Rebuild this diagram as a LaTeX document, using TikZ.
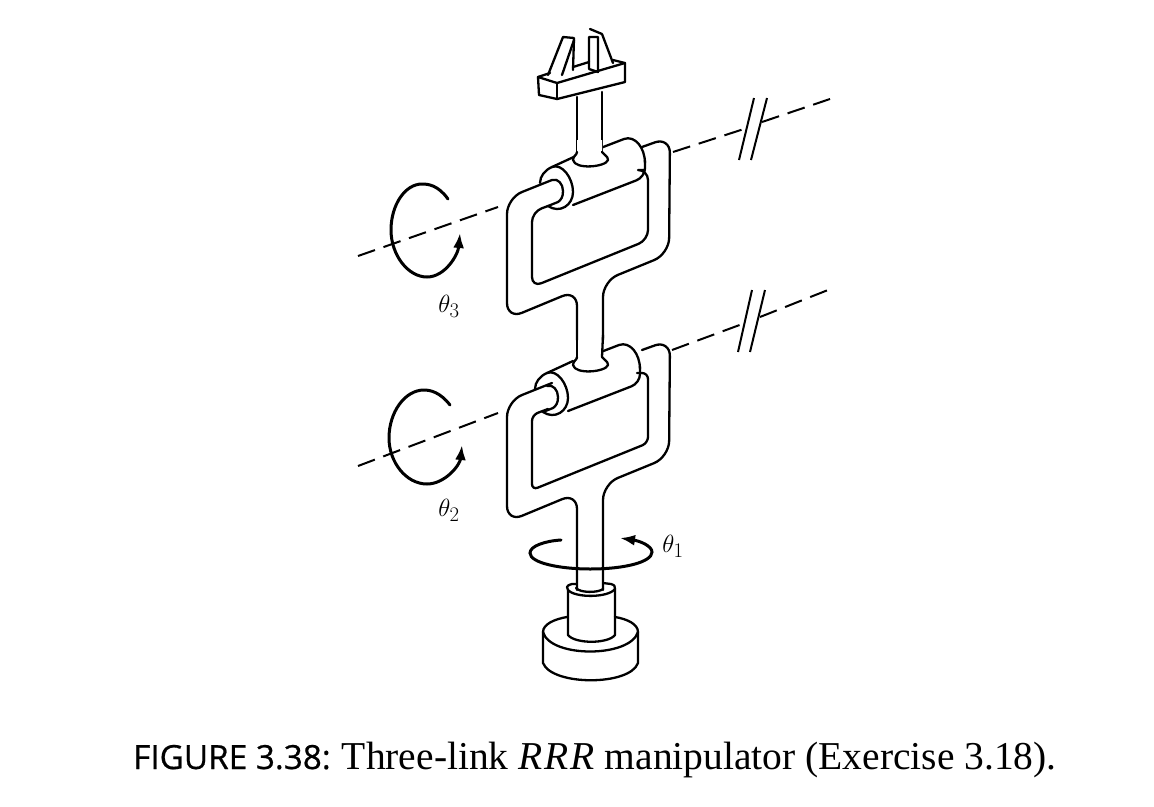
\documentclass[tikz,border=0pt]{standalone}
\usepackage{amsmath}
\usepackage{fontspec}
\setmainfont{Liberation Serif}
\newfontfamily\capsans[FakeBold=0.6]{Open Sans}
\usetikzlibrary{arrows.meta,positioning,calc}

\tikzset{
  part/.style={line width=2.3pt, line join=round, line cap=round},
  axisline/.style={line width=2pt, dash pattern=on 18pt off 9pt},
  slash/.style={line width=2pt},
  turn/.style={line width=3pt, line cap=round, -{Latex[length=15pt,width=11pt]}},
  angle/.style={font=\fontsize{30}{36}\selectfont, inner sep=0pt}
}

% yoke with its window, #1 end of the legs, #2 end of window top, #3 window corner
\newcommand{\linkframe}[3]{
  \draw[part, rounded corners=16pt] (552,180) -- (507,198) -- (507,319) -- (577,290) -- (577,#1);
  \draw[part, rounded corners=16pt] (603,#1) -- (603,281) -- (669,254) -- (670,137) -- (642,147);
  \draw[part, rounded corners=#3] (548,206) -- (532,212) -- (532,287) -- (648,240) -- (648,170) -- (#2,170);
}
% cross cylinder and its end ring
\newcommand{\linkbarrel}{
  \draw[part] (552,167) -- (578,155);
  \draw[part] (598,149) -- (624,139) .. controls (635,135) and (645,148) .. (645,163);
  \draw[part, rounded corners=9pt] (645,160) -- (645,177) -- (573,205);
  \draw[part] (540,183) .. controls (540,176) and (545,170) .. (552,167)
    .. controls (562,163) and (573,178) .. (573,192)
    .. controls (573,205) and (560,214) .. (548,206);
  \draw[part] (552,180) .. controls (558,178) and (563,184) .. (563,191)
    .. controls (563,197) and (561,200) .. (558,202) -- (548,206);
}
% flare where the shaft meets the cylinder
\newcommand{\linkcollar}{
  \fill[white] (577,140) -- (602,140) -- (602,152) .. controls (604,155) and (608,156) .. (608,160)
    .. controls (606,167) and (575,170) .. (573,160) .. controls (573,156) and (577,155) .. (577,152) -- cycle;
  \draw[part] (577,152) .. controls (577,155) and (573,156) .. (573,160)
    .. controls (575,170) and (606,167) .. (608,160) .. controls (608,156) and (604,155) .. (602,152);
}

\begin{document}
\begin{tikzpicture}[x=1pt, y=-1pt]
  \useasboundingbox (0,0) rectangle (1154,806);

  % axes
  \draw[axisline] (358,256) -- (498,207);
  \draw[axisline] (673,152) -- (747,128);
  \draw[axisline] (762,122) -- (830,99);
  \draw[slash] (754,98) -- (739,160);
  \draw[slash] (767,98) -- (751,160);
  \draw[axisline] (358,466) -- (498,413);
  \draw[axisline] (672,350) -- (745,323);
  \draw[axisline] (760,317) -- (828,290);
  \draw[slash] (752,290) -- (738,352);
  \draw[slash] (765,290) -- (750,352);

  % gripper
  \draw[part] (548,75) -- (563,37) -- (574,38) -- (573,70);
  \draw[part] (562,75) -- (574,40);
  \draw[part] (589,68) -- (589,37) -- (598,37) -- (598,72) -- (589,69);
  \draw[part] (590,29) -- (602,34) -- (613,63);
  \draw[part] (538,77) -- (550,73);
  \draw[part] (573,67) -- (589,62);
  \draw[part] (538,77) -- (557,83) -- (625,63) -- (613,60);
  \draw[part] (538,77) -- (539,95) -- (557,99) -- (625,82) -- (625,63);
  \draw[part] (557,83) -- (557,99);
  \draw[part] (577,97) -- (577,152);
  \draw[part] (602,92) -- (602,152);

  % upper link
  \linkframe{340}{645}{10pt}
  \linkbarrel
  \linkcollar

  % lower link
  \begin{scope}[shift={(0,203)}]
    \linkframe{387}{637}{6pt}
  \end{scope}
  \begin{scope}[shift={(-5,206)}]
    \linkbarrel
  \end{scope}
  \begin{scope}[shift={(0,205)}]
    \linkcollar
  \end{scope}
  \draw[part] (577,335) -- (577,358);
  \draw[part] (603,335) -- (602,357);

  % base
  \draw[part] (576,588) .. controls (580,593) and (598,593) .. (603,589);
  \draw[part] (576,584) -- (572,584) .. controls (565,586) and (567,588) .. (568,590);
  \draw[part] (603,583) -- (611,584) .. controls (615,585) and (615,587) .. (615,589);
  \draw[part] (568,590) .. controls (575,598) and (608,598) .. (615,589);
  \draw[part] (568,590) -- (568,635) .. controls (575,644) and (608,644) .. (615,635) -- (615,589);
  \draw[part] (567,617) .. controls (555,619) and (543,624) .. (543,632);
  \draw[part] (615,617) .. controls (627,619) and (638,624) .. (638,632);
  \draw[part] (543,632) .. controls (550,658) and (630,658) .. (638,632);
  \draw[part] (543,632) -- (543,663) .. controls (552,686) and (630,686) .. (638,663) -- (638,632);

  % joint arrows
  \draw[turn] (448,199) .. controls (438,185) and (428,184) .. (422,184)
    .. controls (405,184) and (391,205) .. (391,230)
    .. controls (391,255) and (408,277) .. (427,277)
    .. controls (445,277) and (458,255) .. (460,233);
  \draw[turn] (450,405) .. controls (440,392) and (430,390) .. (424,390)
    .. controls (405,390) and (389,412) .. (389,438)
    .. controls (389,462) and (406,484) .. (427,484)
    .. controls (445,484) and (460,465) .. (462,445);
  \draw[turn] (561,540) .. controls (545,541) and (530,546) .. (530,553)
    .. controls (530,563) and (560,569) .. (590,569)
    .. controls (625,569) and (652,562) .. (652,552)
    .. controls (652,546) and (640,541) .. (620,538);

  % labels
  \node[angle] (theta3) at (449,306) {$\theta_3$};
  \node[angle] (theta2) at (449,510) {$\theta_2$};
  \node[angle] (theta1) at (673,546) {$\theta_1$};

  % caption
  \node[anchor=base west, inner sep=0pt, font=\fontsize{39.5}{44}\selectfont] (caption) at (133,769)
    {{\capsans\fontsize{33.3}{40}\selectfont FIGURE 3.38:}\kern-2pt{} Three-link \textit{R\kern2pt R\kern2pt R} manipulator (Exercise 3.18).};
\end{tikzpicture}
\end{document}
